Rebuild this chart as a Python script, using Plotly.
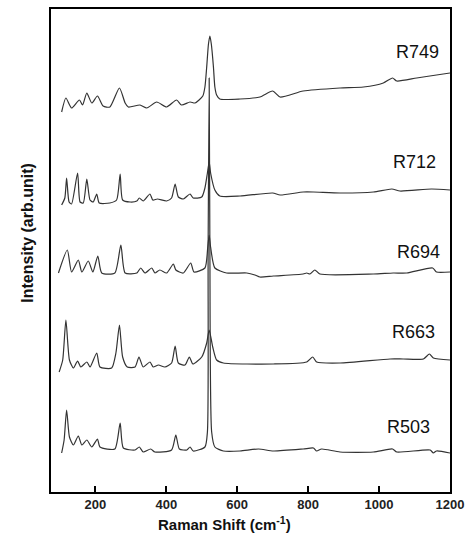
import plotly.graph_objects as go

# Raman spectra, stacked (arb. intensity incl. offset)
names = ["R749", "R712", "R694", "R663", "R503"]

r749_x = [105, 117, 133, 155, 164, 176, 190, 206, 222, 241, 268, 284, 293, 326, 345, 373, 401, 429, 443, 467,
          481, 503, 509, 514, 519, 523, 527, 533, 537, 542, 551, 608, 664, 700, 721, 786, 890, 956, 1012, 1038,
          1050, 1106, 1162, 1200]
r749_y = [380, 394, 384, 392, 387, 399, 389, 396, 386, 385, 404, 389, 385, 387, 384, 390, 385, 392, 387, 390,
          389, 396, 405, 425, 448, 456, 448, 425, 405, 397, 393, 393, 395, 401, 395, 401, 404, 405, 409, 414,
          411, 414, 417, 419]

r712_x = [105, 114, 119, 126, 133, 150, 157, 166, 176, 185, 194, 204, 211, 241, 260, 270, 277, 298, 317, 324,
          335, 354, 362, 375, 401, 415, 425, 434, 448, 467, 476, 500, 509, 516, 521, 525, 537, 551, 608, 700,
          721, 786, 815, 890, 984, 1036, 1059, 1148, 1200]
r712_y = [287, 294, 314, 290, 288, 319, 290, 289, 313, 292, 290, 298, 289, 289, 292, 318, 292, 290, 291, 294,
          291, 298, 292, 293, 291, 294, 308, 295, 293, 298, 294, 295, 304, 319, 330, 319, 302, 296, 296, 299,
          297, 300, 300, 299, 300, 303, 301, 303, 302]

r694_x = [96, 121, 133, 152, 162, 180, 193, 207, 218, 255, 272, 284, 317, 328, 340, 359, 368, 382, 401, 420,
          427, 448, 469, 478, 509, 517, 521, 525, 537, 570, 627, 650, 664, 702, 786, 796, 805, 819, 833, 984,
          1040, 1078, 1151, 1162, 1200]
r694_y = [219, 242, 220, 232, 220, 231, 220, 236, 219, 219, 247, 219, 219, 224, 219, 224, 219, 222, 219, 228,
          222, 219, 229, 220, 224, 245, 257, 245, 224, 219, 219, 217, 215, 216, 218, 219, 218, 222, 218, 218,
          219, 219, 224, 220, 220]

r663_x = [98, 108, 117, 127, 138, 150, 159, 176, 185, 204, 213, 246, 258, 268, 277, 290, 312, 323, 335, 354,
          363, 378, 396, 415, 425, 434, 453, 465, 475, 500, 514, 521, 531, 542, 561, 702, 796, 813, 824, 890,
          1031, 1068, 1125, 1142, 1153, 1200]
r663_y = [120, 132, 172, 132, 124, 131, 125, 130, 125, 139, 125, 124, 139, 167, 135, 125, 125, 135, 125, 130,
          125, 127, 125, 129, 146, 129, 127, 135, 128, 135, 149, 162, 145, 132, 129, 128, 130, 135, 130, 129,
          133, 133, 133, 138, 134, 132]

r503_x = [105, 112, 119, 127, 138, 152, 162, 176, 190, 206, 213, 255, 270, 279, 312, 324, 335, 356, 368, 415,
          427, 437, 458, 467, 476, 509, 516, 518, 521, 523, 528, 537, 561, 608, 660, 702, 786, 815, 824, 838,
          890, 984, 1038, 1050, 1144, 1153, 1162, 1200]
r503_y = [39, 52, 82, 55, 47, 56, 47, 52, 45, 53, 45, 43, 69, 44, 42, 45, 40, 43, 40, 42,
          57, 43, 42, 45, 41, 45, 60, 242, 414, 242, 60, 45, 41, 41, 43, 41, 43, 44, 41, 43,
          40, 40, 43, 40, 42, 39, 41, 39]

xs = [r749_x, r712_x, r694_x, r663_x, r503_x]
ys = [r749_y, r712_y, r694_y, r663_y, r503_y]
label_x = [1107, 1101, 1110, 1096, 1082]
label_y = [440, 330, 240, 160, 65]

fig = go.Figure()
for n, x, y in zip(names, xs, ys):
    fig.add_trace(go.Scatter(x=x, y=y, mode="lines", name=n,
                             line=dict(color="#333333", width=1.2, shape="spline", smoothing=0.6)))

for n, lx, ly in zip(names, label_x, label_y):
    fig.add_annotation(x=lx, y=ly, text=n, showarrow=False,
                       font=dict(size=18, color="#111111", family="Liberation Sans, Arial"))

fig.add_annotation(x=0.436, y=-0.089, xref="paper", yref="paper", text="<b>Raman Shift (cm<sup>-1</sup>)</b>",
                   showarrow=False, font=dict(size=15, color="#111111"))
fig.add_annotation(x=-0.085, y=0.536, xref="paper", yref="paper", text="<b>Intensity (arb.unit)</b>",
                   textangle=-90, showarrow=False, font=dict(size=16, color="#111111"))

fig.update_layout(
    width=470, height=550,
    margin=dict(l=51, r=20, t=9, b=58),
    plot_bgcolor="white", paper_bgcolor="white",
    showlegend=False,
    font=dict(family="Liberation Sans, Arial", color="#222222"),
)
fig.update_xaxes(range=[75, 1200], tickvals=[200, 400, 600, 800, 1000, 1200],
                 ticktext=["<b>%d</b>" % v for v in [200, 400, 600, 800, 1000, 1200]],
                 ticks="inside", ticklen=6, tickwidth=1.5, tickcolor="black",
                 showline=True, linecolor="black", linewidth=1.5, mirror=True,
                 showgrid=False, zeroline=False, tickfont=dict(size=13), automargin=False)
fig.update_yaxes(range=[0, 483], showticklabels=False, ticks="",
                 showline=True, linecolor="black", linewidth=1.5, mirror=True,
                 showgrid=False, zeroline=False)

# drop the page's default body margin so the figure fills the window
fig.write_html("out.html", config={"displayModeBar": False},
               post_script="document.body.style.margin='0';document.body.style.overflow='hidden';")
